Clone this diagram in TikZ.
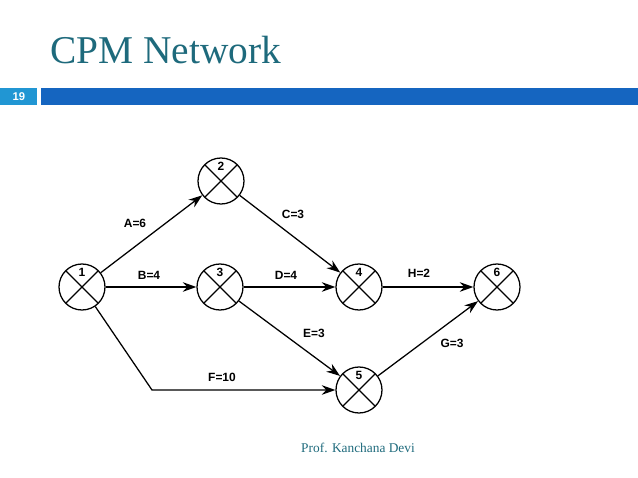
\documentclass[tikz,border=0pt]{standalone}
\usepackage{fontspec}
\setmainfont{Liberation Serif}
\newfontfamily\labfont{Liberation Sans}
\usepackage{tikz}
\usetikzlibrary{arrows.meta,positioning,calc}
\definecolor{titleteal}{HTML}{1E6A7C}
\definecolor{barblue}{HTML}{1565C0}
\definecolor{numblue}{HTML}{2196D3}

\tikzset{
    evt/.style={circle, draw, line width=0.9pt, minimum size=1.15cm, inner sep=0pt,
        path picture={
            \draw[line width=0.9pt] (path picture bounding box.north west) -- (path picture bounding box.south east);
            \draw[line width=0.9pt] (path picture bounding box.north east) -- (path picture bounding box.south west);
        },
        label={[num]90:#1}},
    num/.style={anchor=north, inner sep=0pt, yshift=-0.12cm, font=\labfont\bfseries\fontsize{8.5}{10}\selectfont},
    lab/.style={inner sep=1pt, font=\labfont\bfseries\fontsize{8.5}{10}\selectfont},
    act/.style={line width=0.9pt, -{Stealth[length=3.4mm, width=2.4mm]}},
}

\begin{document}
\begin{tikzpicture}[x=0.025cm, y=-0.025cm]
    \useasboundingbox (0,0) rectangle (638,478);

    % Slide header
    \node[anchor=base west, inner sep=0pt, text=titleteal, font=\fontsize{28}{30}\selectfont] (title) at (50,64) {CPM Network};
    \fill[numblue] (0,88) rectangle (37,105);
    \fill[barblue] (41,88) rectangle (638,105);
    \node[text=white, font=\labfont\bfseries\fontsize{8}{9}\selectfont] (slideno) at (19,97) {19};

    % Events
    \node[evt=1] (n1) at (82,287) {};
    \node[evt=2] (n2) at (221,181) {};
    \node[evt=3] (n3) at (220,287) {};
    \node[evt=4] (n4) at (359,287) {};
    \node[evt=5] (n5) at (359,390) {};
    \node[evt=6] (n6) at (497,287) {};
    \coordinate (fbend) at (152,390);

    % Activities
    \draw[act] (n1) -- (n2);
    \draw[act] (n1) -- (n3);
    \draw[act] (n1) -- (fbend) -- (n5);
    \draw[act] (n2) -- (n4);
    \draw[act] (n3) -- (n4);
    \draw[act] (n3) -- (n5);
    \draw[act] (n4) -- (n6);
    \draw[act] (n5) -- (n6);

    % Activity labels
    \node[lab] (lA) at (135,223) {A=6};
    \node[lab] (lB) at (149,275) {B=4};
    \node[lab] (lC) at (293,214) {C=3};
    \node[lab] (lD) at (286,275) {D=4};
    \node[lab] (lE) at (314,333) {E=3};
    \node[lab] (lF) at (222,377) {F=10};
    \node[lab] (lG) at (452,343) {G=3};
    \node[lab] (lH) at (419,273) {H=2};

    % Footer
    \node[text=titleteal, font=\fontsize{9.5}{11}\selectfont] (footer) at (358,448) {Prof. Kanchana Devi};
\end{tikzpicture}
\end{document}
